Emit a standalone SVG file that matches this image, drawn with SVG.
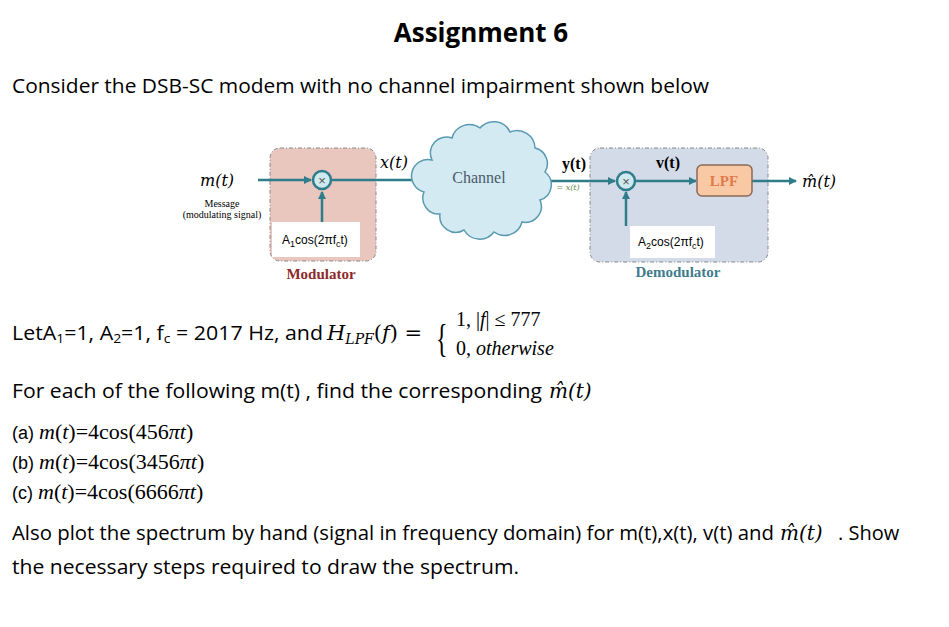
<svg xmlns="http://www.w3.org/2000/svg" width="949" height="627" viewBox="0 0 949 627">
<style>
.t{font-family:"Open Sans","Liberation Sans",sans-serif;fill:#000}
.m{font-family:"DejaVu Serif","Liberation Serif",serif;font-style:italic}
.s{font-family:"Liberation Serif",serif}
.ln{stroke:#2f7c8a;stroke-width:2.5;fill:none}
.mul{fill:#cfe9f0;stroke:#2f7c8a;stroke-width:2.5}
.lbl{font-family:"Liberation Sans",sans-serif;font-size:12px}
</style>
<defs>
<marker id="ar" markerWidth="8" markerHeight="8" refX="7" refY="4" orient="auto" markerUnits="userSpaceOnUse"><path d="M0,0 L8,4 L0,8 Z" fill="#2f7c8a"/></marker>
</defs>
<rect width="949" height="627" fill="#fff"/>
<text class="t" x="481" y="42" font-size="26" font-weight="bold" text-anchor="middle">Assignment 6</text>
<text class="t" x="12" y="93" font-size="20" textLength="697" lengthAdjust="spacingAndGlyphs">Consider the DSB-SC modem with no channel impairment shown below</text>

<g id="modulator">
<rect x="270" y="148" width="106" height="113" rx="10" fill="#e9c6be" stroke="#888" stroke-dasharray="4,2,1,2"/>
<rect x="272" y="222" width="88" height="35" fill="#fff"/>
<text class="lbl" x="282" y="244">A<tspan font-size="9" dy="3">1</tspan><tspan dy="-3">cos(2πf</tspan><tspan font-size="9" dy="3">c</tspan><tspan dy="-3">t)</tspan></text>
<text class="s" x="321" y="279" font-size="15" font-weight="bold" fill="#8b2a2a" text-anchor="middle">Modulator</text>
</g>
<g id="demodulator">
<rect x="590" y="148" width="178" height="114" rx="10" fill="#d3dbe8" stroke="#888" stroke-dasharray="4,2,1,2"/>
<rect x="630" y="226" width="85" height="32" fill="#fff"/>
<text class="lbl" x="638" y="246">A<tspan font-size="9" dy="3">2</tspan><tspan dy="-3">cos(2πf</tspan><tspan font-size="9" dy="3">c</tspan><tspan dy="-3">t)</tspan></text>
<text class="s" x="678" y="277" font-size="15" font-weight="bold" fill="#3f7c8c" text-anchor="middle">Demodulator</text>
</g>
<g id="connectors">
<line class="ln" x1="258" y1="180" x2="311" y2="180" marker-end="url(#ar)"/>
<line class="ln" x1="322" y1="222" x2="322" y2="192" marker-end="url(#ar)"/>
<line class="ln" x1="332" y1="180" x2="420" y2="180" marker-end="url(#ar)"/>
<line class="ln" x1="548" y1="181" x2="615" y2="181" marker-end="url(#ar)"/>
<line class="ln" x1="626" y1="226" x2="626" y2="192" marker-end="url(#ar)"/>
<line class="ln" x1="636" y1="181" x2="696" y2="181" marker-end="url(#ar)"/>
<line class="ln" x1="752" y1="181" x2="796" y2="181" marker-end="url(#ar)"/>
</g>
<g id="mult1"><circle class="mul" cx="322" cy="180" r="9"/><text x="322" y="185" font-family="Liberation Sans,sans-serif" font-size="13" fill="#555" text-anchor="middle">×</text></g>
<g id="mult2"><circle class="mul" cx="626" cy="181" r="9"/><text x="626" y="186" font-family="Liberation Sans,sans-serif" font-size="13" fill="#555" text-anchor="middle">×</text></g>
<g id="channel">
<path d="M432,160 A16,16 0 0 1 452,138 A18,18 0 0 1 480,128 A18,18 0 0 1 510,132 A18,18 0 0 1 535,148 A16,16 0 0 1 545,172 A16,16 0 0 1 540,200 A16,16 0 0 1 522,222 A18,18 0 0 1 494,232 A18,18 0 0 1 464,230 A16,16 0 0 1 440,214 A16,16 0 0 1 424,192 A16,16 0 0 1 432,160 Z" fill="#d3eaf3" stroke="#5a9ab0" stroke-width="1.5"/>
<text class="s" x="479" y="183" font-size="16" fill="#4a5a6a" text-anchor="middle">Channel</text>
</g>
<g id="lpf">
<rect x="697" y="165" width="55" height="31" rx="5" fill="#f9c9a6" stroke="#8a6a55" stroke-width="1.5"/>
<text class="s" x="724" y="186" font-size="15" font-weight="bold" fill="#e07a4a" text-anchor="middle">LPF</text>
</g>
<text class="m" x="200" y="186" font-size="16">m(t)</text>
<text class="s" x="222" y="207" font-size="10" text-anchor="middle">Message</text>
<text class="s" x="222" y="218" font-size="10" text-anchor="middle">(modulating signal)</text>
<text class="m" x="380" y="168" font-size="16">x(t)</text>
<text class="s" x="574" y="169" font-size="16" font-weight="bold" text-anchor="middle">y(t)</text>
<text class="m" x="568" y="190" font-size="8" fill="#6a8a4a" text-anchor="middle">= x(t)</text>
<text class="s" x="668" y="168" font-size="16" font-weight="bold" text-anchor="middle">v(t)</text>
<text class="m" x="802" y="187" font-size="16">m̂(t)</text>

<text class="t" x="12" y="340" font-size="20" textLength="311" lengthAdjust="spacingAndGlyphs">LetA<tspan font-size="13" dy="3">1</tspan><tspan dy="-3">=1, A</tspan><tspan font-size="13" dy="3">2</tspan><tspan dy="-3">=1, f</tspan><tspan font-size="13" dy="3">c</tspan><tspan dy="-3"> = 2017 Hz, and</tspan></text>
<text class="m" x="327" y="340" font-size="21">H<tspan font-size="14" dy="4">LPF</tspan><tspan dy="-4" font-style="normal">(</tspan>f<tspan font-style="normal">) =</tspan></text>
<text class="s" x="436" y="352" font-size="40" transform="translate(436 0) scale(0.6 1) translate(-436 0)">{</text>
<text class="s" x="456" y="326" font-size="20">1, |<tspan font-style="italic">f</tspan>| ≤ 777</text>
<text class="s" x="456" y="355" font-size="20">0, <tspan font-style="italic">otherwise</tspan></text>

<text class="t" x="12" y="398" font-size="20" textLength="530" lengthAdjust="spacingAndGlyphs">For each of the following m(t) , find the corresponding</text>
<text class="m" x="549" y="398" font-size="20">m̂(t)</text>
<text class="s" x="12" y="439" font-size="22"><tspan font-family="Liberation Sans,sans-serif" font-size="18">(a)  </tspan><tspan font-style="italic">m</tspan>(<tspan font-style="italic">t</tspan>)=4cos(456<tspan font-style="italic">πt</tspan>)</text>
<text class="s" x="12" y="469" font-size="22"><tspan font-family="Liberation Sans,sans-serif" font-size="18">(b)  </tspan><tspan font-style="italic">m</tspan>(<tspan font-style="italic">t</tspan>)=4cos(3456<tspan font-style="italic">πt</tspan>)</text>
<text class="s" x="12" y="499" font-size="22"><tspan font-family="Liberation Sans,sans-serif" font-size="18">(c)  </tspan><tspan font-style="italic">m</tspan>(<tspan font-style="italic">t</tspan>)=4cos(6666<tspan font-style="italic">πt</tspan>)</text>

<text class="t" x="12" y="540" font-size="20" textLength="762" lengthAdjust="spacingAndGlyphs">Also plot the spectrum by hand (signal in frequency domain) for m(t),x(t), v(t) and</text>
<text class="m" x="780" y="540" font-size="20">m̂(t)</text>
<text class="t" x="838" y="540" font-size="20">. Show</text>
<text class="t" x="12" y="574" font-size="20" textLength="507" lengthAdjust="spacingAndGlyphs">the necessary steps required to draw the spectrum.</text>
</svg>
